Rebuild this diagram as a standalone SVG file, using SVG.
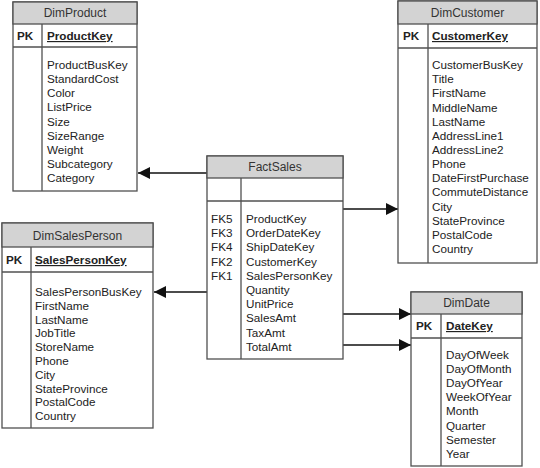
<svg xmlns="http://www.w3.org/2000/svg" width="540" height="468" viewBox="0 0 540 468">
<defs>
<style>
.box{fill:#fff;stroke:#505050;stroke-width:1.3}
.hdr{fill:#d3d3d3;stroke:#505050;stroke-width:1.3}
.ln{stroke:#505050;stroke-width:1.3;fill:none}
text{font-family:"Liberation Sans",Arial,sans-serif;font-size:11.7px;fill:#222}
.t{font-size:12px;text-anchor:middle;fill:#333}
.pk{font-weight:bold}
.key{font-weight:bold;text-decoration:underline}
.con{stroke:#111;stroke-width:1.5;fill:none;marker-end:url(#ah)}
</style>
<marker id="ah" markerWidth="12" markerHeight="12" refX="12" refY="6" orient="auto" markerUnits="userSpaceOnUse">
<path d="M0,0 L12,6 L0,12 Z" fill="#111"/>
</marker>
</defs>

<g id="connectors">
<line class="con" x1="207" y1="173" x2="138" y2="173"/>
<line class="con" x1="343" y1="209" x2="398" y2="209"/>
<line class="con" x1="207" y1="292" x2="154" y2="292"/>
<line class="con" x1="343" y1="314" x2="411" y2="314"/>
<line class="con" x1="343" y1="345" x2="411" y2="345"/>
</g>

<g id="DimProduct">
<rect class="box" x="13" y="2" width="124" height="189"/>
<rect class="hdr" x="13" y="2" width="124" height="22"/>
<line class="ln" x1="13" y1="47" x2="137" y2="47"/>
<line class="ln" x1="42" y1="24" x2="42" y2="191"/>
<text class="t" x="75" y="17">DimProduct</text>
<text class="pk" x="17" y="40">PK</text>
<text class="key" x="47" y="40">ProductKey</text>
<text x="47" y="69">ProductBusKey</text>
<text x="47" y="83.1">StandardCost</text>
<text x="47" y="97.3">Color</text>
<text x="47" y="111.4">ListPrice</text>
<text x="47" y="125.6">Size</text>
<text x="47" y="139.7">SizeRange</text>
<text x="47" y="153.9">Weight</text>
<text x="47" y="168">Subcategory</text>
<text x="47" y="182.2">Category</text>
</g>

<g id="DimCustomer">
<rect class="box" x="398" y="1" width="139" height="262"/>
<rect class="hdr" x="398" y="1" width="139" height="23"/>
<line class="ln" x1="398" y1="48" x2="537" y2="48"/>
<line class="ln" x1="428" y1="24" x2="428" y2="263"/>
<text class="t" x="467.5" y="17">DimCustomer</text>
<text class="pk" x="403" y="40">PK</text>
<text class="key" x="432" y="40">CustomerKey</text>
<text x="432" y="69">CustomerBusKey</text>
<text x="432" y="83.2">Title</text>
<text x="432" y="97.3">FirstName</text>
<text x="432" y="111.5">MiddleName</text>
<text x="432" y="125.6">LastName</text>
<text x="432" y="139.8">AddressLine1</text>
<text x="432" y="153.9">AddressLine2</text>
<text x="432" y="168.1">Phone</text>
<text x="432" y="182.2">DateFirstPurchase</text>
<text x="432" y="196.4">CommuteDistance</text>
<text x="432" y="210.5">City</text>
<text x="432" y="224.7">StateProvince</text>
<text x="432" y="238.8">PostalCode</text>
<text x="432" y="253">Country</text>
</g>

<g id="FactSales">
<rect class="box" x="207" y="156" width="136" height="203"/>
<rect class="hdr" x="207" y="156" width="136" height="22"/>
<line class="ln" x1="207" y1="201" x2="343" y2="201"/>
<line class="ln" x1="241" y1="178" x2="241" y2="359"/>
<text class="t" x="275" y="170.5">FactSales</text>
<text x="211" y="223">FK5</text>
<text x="211" y="237.2">FK3</text>
<text x="211" y="251.4">FK4</text>
<text x="211" y="265.6">FK2</text>
<text x="211" y="279.8">FK1</text>
<text x="246" y="223">ProductKey</text>
<text x="246" y="237.2">OrderDateKey</text>
<text x="246" y="251.4">ShipDateKey</text>
<text x="246" y="265.6">CustomerKey</text>
<text x="246" y="279.8">SalesPersonKey</text>
<text x="246" y="294">Quantity</text>
<text x="246" y="308.2">UnitPrice</text>
<text x="246" y="322.4">SalesAmt</text>
<text x="246" y="336.6">TaxAmt</text>
<text x="246" y="350.8">TotalAmt</text>
</g>

<g id="DimSalesPerson">
<rect class="box" x="2" y="223" width="151" height="205"/>
<rect class="hdr" x="2" y="223" width="151" height="24"/>
<line class="ln" x1="2" y1="272" x2="153" y2="272"/>
<line class="ln" x1="31" y1="247" x2="31" y2="428"/>
<text class="t" x="77.5" y="240">DimSalesPerson</text>
<text class="pk" x="6" y="264">PK</text>
<text class="key" x="35" y="264">SalesPersonKey</text>
<text x="35" y="296">SalesPersonBusKey</text>
<text x="35" y="309.8">FirstName</text>
<text x="35" y="323.6">LastName</text>
<text x="35" y="337.4">JobTitle</text>
<text x="35" y="351.2">StoreName</text>
<text x="35" y="365">Phone</text>
<text x="35" y="378.8">City</text>
<text x="35" y="392.6">StateProvince</text>
<text x="35" y="406.4">PostalCode</text>
<text x="35" y="420.2">Country</text>
</g>

<g id="DimDate">
<rect class="box" x="411" y="292" width="111" height="174"/>
<rect class="hdr" x="411" y="292" width="111" height="22"/>
<line class="ln" x1="411" y1="338" x2="522" y2="338"/>
<line class="ln" x1="441" y1="314" x2="441" y2="466"/>
<text class="t" x="466.5" y="307">DimDate</text>
<text class="pk" x="416" y="330">PK</text>
<text class="key" x="446" y="330">DateKey</text>
<text x="446" y="359">DayOfWeek</text>
<text x="446" y="373.1">DayOfMonth</text>
<text x="446" y="387.2">DayOfYear</text>
<text x="446" y="401.3">WeekOfYear</text>
<text x="446" y="415.4">Month</text>
<text x="446" y="429.5">Quarter</text>
<text x="446" y="443.6">Semester</text>
<text x="446" y="457.7">Year</text>
</g>
</svg>
